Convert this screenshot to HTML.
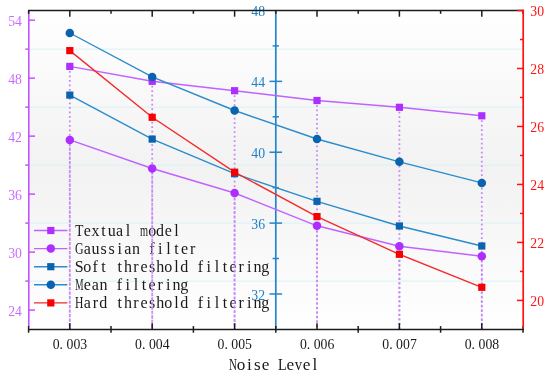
<!DOCTYPE html>
<html><head><meta charset="utf-8"><title>Noise Level chart</title><style>html,body{margin:0;padding:0;background:#fff;width:550px;height:380px;overflow:hidden}svg{display:block}</style></head><body>
<svg width="550" height="380" viewBox="0 0 550 380">
<defs><linearGradient id="bg" x1="0" y1="0" x2="0" y2="1"><stop offset="0" stop-color="#ffffff"/><stop offset="0.5" stop-color="#f2f2f2"/><stop offset="1" stop-color="#ffffff"/></linearGradient></defs>
<rect x="28.8" y="10.5" width="494.40" height="318.90" fill="url(#bg)"/>
<line x1="28.80" y1="49.15" x2="523.20" y2="49.15" stroke="#dbf1f5" stroke-width="1"/>
<line x1="28.80" y1="107.14" x2="523.20" y2="107.14" stroke="#dbf1f5" stroke-width="1"/>
<line x1="28.80" y1="165.12" x2="523.20" y2="165.12" stroke="#dbf1f5" stroke-width="1"/>
<line x1="28.80" y1="223.10" x2="523.20" y2="223.10" stroke="#dbf1f5" stroke-width="1"/>
<line x1="28.80" y1="281.08" x2="523.20" y2="281.08" stroke="#dbf1f5" stroke-width="1"/>
<text y="235.60" font-family="Liberation Serif, serif" font-size="16" fill="#1a1a1a"><tspan x="75.16" textLength="8.16" lengthAdjust="spacingAndGlyphs">T</tspan><tspan x="83.76 91.48 101.30 107.68 116.03 125.63 133.95">extual </tspan><tspan x="139.98" textLength="8.08" lengthAdjust="spacingAndGlyphs">m</tspan><tspan x="148.15 156.06 164.76 174.23">odel</tspan></text>
<text y="253.70" font-family="Liberation Serif, serif" font-size="16" fill="#1a1a1a"><tspan x="74.91" textLength="8.56" lengthAdjust="spacingAndGlyphs">G</tspan><tspan x="83.63 91.48 100.40 108.50 117.51 124.13 131.89 142.05 149.24 158.01 166.13 174.20 180.96 189.90">aussian filter</tspan></text>
<text y="271.80" font-family="Liberation Serif, serif" font-size="16" fill="#1a1a1a"><tspan x="74.76 83.35 92.54 101.30 109.65 117.50 123.88 133.20 140.46 149.00 156.28 164.35 174.23 180.36 190.65 197.84 206.61 214.73 222.80 229.56 238.50 247.11 253.39 261.36">Soft threshold filtering</tspan></text>
<text y="289.90" font-family="Liberation Serif, serif" font-size="16" fill="#1a1a1a"><tspan x="75.13" textLength="8.24" lengthAdjust="spacingAndGlyphs">M</tspan><tspan x="83.76 91.73 99.49 109.65 116.84 125.61 133.73 141.80 148.56 157.50 166.11 172.39 180.36">ean filtering</tspan></text>
<text y="308.00" font-family="Liberation Serif, serif" font-size="16" fill="#1a1a1a"><tspan x="75.07" textLength="8.37" lengthAdjust="spacingAndGlyphs">H</tspan><tspan x="83.63 92.70 99.36 109.65 117.50 123.88 133.20 140.46 149.00 156.28 164.35 174.23 180.36 190.65 197.84 206.61 214.73 222.80 229.56 238.50 247.11 253.39 261.36">ard threshold filtering</tspan></text>
<line x1="69.80" y1="66.40" x2="69.80" y2="329.40" stroke="#c688f5" stroke-width="1.8" stroke-dasharray="1.8 2.7"/>
<line x1="152.20" y1="81.30" x2="152.20" y2="329.40" stroke="#c688f5" stroke-width="1.8" stroke-dasharray="1.8 2.7"/>
<line x1="234.60" y1="90.70" x2="234.60" y2="329.40" stroke="#c688f5" stroke-width="1.8" stroke-dasharray="1.8 2.7"/>
<line x1="317.00" y1="100.50" x2="317.00" y2="329.40" stroke="#c688f5" stroke-width="1.8" stroke-dasharray="1.8 2.7"/>
<line x1="399.40" y1="107.30" x2="399.40" y2="329.40" stroke="#c688f5" stroke-width="1.8" stroke-dasharray="1.8 2.7"/>
<line x1="481.80" y1="115.80" x2="481.80" y2="329.40" stroke="#c688f5" stroke-width="1.8" stroke-dasharray="1.8 2.7"/>
<line x1="69.80" y1="139.90" x2="69.80" y2="329.40" stroke="#c688f5" stroke-width="1.8" stroke-dasharray="1.8 2.7"/>
<line x1="152.20" y1="168.50" x2="152.20" y2="329.40" stroke="#c688f5" stroke-width="1.8" stroke-dasharray="1.8 2.7"/>
<line x1="234.60" y1="193.00" x2="234.60" y2="329.40" stroke="#c688f5" stroke-width="1.8" stroke-dasharray="1.8 2.7"/>
<line x1="317.00" y1="225.80" x2="317.00" y2="329.40" stroke="#c688f5" stroke-width="1.8" stroke-dasharray="1.8 2.7"/>
<line x1="399.40" y1="246.30" x2="399.40" y2="329.40" stroke="#c688f5" stroke-width="1.8" stroke-dasharray="1.8 2.7"/>
<line x1="481.80" y1="256.30" x2="481.80" y2="329.40" stroke="#c688f5" stroke-width="1.8" stroke-dasharray="1.8 2.7"/>
<text transform="scale(0.93,1)" x="8.82 16.24" y="25.76" font-family="Liberation Serif, serif" font-size="14.8" fill="#c96cff">54</text>
<text transform="scale(0.93,1)" x="8.82 16.24" y="83.75" font-family="Liberation Serif, serif" font-size="14.8" fill="#c96cff">48</text>
<text transform="scale(0.93,1)" x="8.82 16.24" y="141.73" font-family="Liberation Serif, serif" font-size="14.8" fill="#c96cff">42</text>
<text transform="scale(0.93,1)" x="8.82 16.24" y="199.71" font-family="Liberation Serif, serif" font-size="14.8" fill="#c96cff">36</text>
<text transform="scale(0.93,1)" x="8.82 16.24" y="257.69" font-family="Liberation Serif, serif" font-size="14.8" fill="#c96cff">30</text>
<text transform="scale(0.93,1)" x="8.82 16.24" y="315.67" font-family="Liberation Serif, serif" font-size="14.8" fill="#c96cff">24</text>
<text transform="scale(0.93,1)" x="570.22 577.63" y="16.50" font-family="Liberation Serif, serif" font-size="14.8" fill="#ff1212">30</text>
<text transform="scale(0.93,1)" x="570.22 577.63" y="74.48" font-family="Liberation Serif, serif" font-size="14.8" fill="#ff1212">28</text>
<text transform="scale(0.93,1)" x="570.22 577.63" y="132.46" font-family="Liberation Serif, serif" font-size="14.8" fill="#ff1212">26</text>
<text transform="scale(0.93,1)" x="570.22 577.63" y="190.45" font-family="Liberation Serif, serif" font-size="14.8" fill="#ff1212">24</text>
<text transform="scale(0.93,1)" x="570.22 577.63" y="248.43" font-family="Liberation Serif, serif" font-size="14.8" fill="#ff1212">22</text>
<text transform="scale(0.93,1)" x="570.22 577.63" y="306.41" font-family="Liberation Serif, serif" font-size="14.8" fill="#ff1212">20</text>
<text transform="scale(0.93,1)" x="270.22 277.63" y="16.50" font-family="Liberation Serif, serif" font-size="14.8" fill="#1f80c4">48</text>
<text transform="scale(0.93,1)" x="270.22 277.63" y="87.37" font-family="Liberation Serif, serif" font-size="14.8" fill="#1f80c4">44</text>
<text transform="scale(0.93,1)" x="270.22 277.63" y="158.23" font-family="Liberation Serif, serif" font-size="14.8" fill="#1f80c4">40</text>
<text transform="scale(0.93,1)" x="270.22 277.63" y="229.10" font-family="Liberation Serif, serif" font-size="14.8" fill="#1f80c4">36</text>
<text transform="scale(0.93,1)" x="270.22 277.63" y="299.97" font-family="Liberation Serif, serif" font-size="14.8" fill="#1f80c4">32</text>
<line x1="275.80" y1="11.30" x2="275.80" y2="328.60" stroke="#2486c8" stroke-width="1.7"/>
<line x1="269.50" y1="81.37" x2="282.10" y2="81.37" stroke="#2486c8" stroke-width="1.5"/>
<line x1="269.50" y1="152.23" x2="282.10" y2="152.23" stroke="#2486c8" stroke-width="1.5"/>
<line x1="269.50" y1="223.10" x2="282.10" y2="223.10" stroke="#2486c8" stroke-width="1.5"/>
<line x1="269.50" y1="293.97" x2="282.10" y2="293.97" stroke="#2486c8" stroke-width="1.5"/>
<line x1="272.60" y1="45.93" x2="279.00" y2="45.93" stroke="#2486c8" stroke-width="1.5"/>
<line x1="272.60" y1="116.80" x2="279.00" y2="116.80" stroke="#2486c8" stroke-width="1.5"/>
<line x1="272.60" y1="187.67" x2="279.00" y2="187.67" stroke="#2486c8" stroke-width="1.5"/>
<line x1="272.60" y1="258.53" x2="279.00" y2="258.53" stroke="#2486c8" stroke-width="1.5"/>
<line x1="28.80" y1="11.10" x2="28.80" y2="326.90" stroke="#c055ff" stroke-width="1.6"/>
<line x1="28.00" y1="10.50" x2="524.00" y2="10.50" stroke="#1c1c1c" stroke-width="1.5"/>
<line x1="28.00" y1="329.40" x2="524.00" y2="329.40" stroke="#1c1c1c" stroke-width="1.5"/>
<line x1="69.80" y1="10.50" x2="69.80" y2="16.70" stroke="#1c1c1c" stroke-width="1.5"/>
<line x1="69.80" y1="329.40" x2="69.80" y2="323.20" stroke="#1c1c1c" stroke-width="1.5"/>
<line x1="152.20" y1="10.50" x2="152.20" y2="16.70" stroke="#1c1c1c" stroke-width="1.5"/>
<line x1="152.20" y1="329.40" x2="152.20" y2="323.20" stroke="#1c1c1c" stroke-width="1.5"/>
<line x1="234.60" y1="10.50" x2="234.60" y2="16.70" stroke="#1c1c1c" stroke-width="1.5"/>
<line x1="234.60" y1="329.40" x2="234.60" y2="323.20" stroke="#1c1c1c" stroke-width="1.5"/>
<line x1="317.00" y1="10.50" x2="317.00" y2="16.70" stroke="#1c1c1c" stroke-width="1.5"/>
<line x1="317.00" y1="329.40" x2="317.00" y2="323.20" stroke="#1c1c1c" stroke-width="1.5"/>
<line x1="399.40" y1="10.50" x2="399.40" y2="16.70" stroke="#1c1c1c" stroke-width="1.5"/>
<line x1="399.40" y1="329.40" x2="399.40" y2="323.20" stroke="#1c1c1c" stroke-width="1.5"/>
<line x1="481.80" y1="10.50" x2="481.80" y2="16.70" stroke="#1c1c1c" stroke-width="1.5"/>
<line x1="481.80" y1="329.40" x2="481.80" y2="323.20" stroke="#1c1c1c" stroke-width="1.5"/>
<line x1="28.60" y1="10.50" x2="28.60" y2="13.80" stroke="#1c1c1c" stroke-width="1.5"/>
<line x1="28.60" y1="326.10" x2="28.60" y2="332.70" stroke="#1c1c1c" stroke-width="1.5"/>
<line x1="111.00" y1="10.50" x2="111.00" y2="13.80" stroke="#1c1c1c" stroke-width="1.5"/>
<line x1="111.00" y1="326.10" x2="111.00" y2="332.70" stroke="#1c1c1c" stroke-width="1.5"/>
<line x1="193.40" y1="10.50" x2="193.40" y2="13.80" stroke="#1c1c1c" stroke-width="1.5"/>
<line x1="193.40" y1="326.10" x2="193.40" y2="332.70" stroke="#1c1c1c" stroke-width="1.5"/>
<line x1="275.80" y1="10.50" x2="275.80" y2="13.80" stroke="#1c1c1c" stroke-width="1.5"/>
<line x1="275.80" y1="326.10" x2="275.80" y2="332.70" stroke="#1c1c1c" stroke-width="1.5"/>
<line x1="358.20" y1="10.50" x2="358.20" y2="13.80" stroke="#1c1c1c" stroke-width="1.5"/>
<line x1="358.20" y1="326.10" x2="358.20" y2="332.70" stroke="#1c1c1c" stroke-width="1.5"/>
<line x1="440.60" y1="10.50" x2="440.60" y2="13.80" stroke="#1c1c1c" stroke-width="1.5"/>
<line x1="440.60" y1="326.10" x2="440.60" y2="332.70" stroke="#1c1c1c" stroke-width="1.5"/>
<line x1="523.00" y1="10.50" x2="523.00" y2="13.80" stroke="#1c1c1c" stroke-width="1.5"/>
<line x1="523.00" y1="326.10" x2="523.00" y2="332.70" stroke="#1c1c1c" stroke-width="1.5"/>
<line x1="28.80" y1="20.16" x2="35.00" y2="20.16" stroke="#c055ff" stroke-width="1.5"/>
<line x1="28.80" y1="78.15" x2="35.00" y2="78.15" stroke="#c055ff" stroke-width="1.5"/>
<line x1="28.80" y1="136.13" x2="35.00" y2="136.13" stroke="#c055ff" stroke-width="1.5"/>
<line x1="28.80" y1="194.11" x2="35.00" y2="194.11" stroke="#c055ff" stroke-width="1.5"/>
<line x1="28.80" y1="252.09" x2="35.00" y2="252.09" stroke="#c055ff" stroke-width="1.5"/>
<line x1="28.80" y1="310.07" x2="35.00" y2="310.07" stroke="#c055ff" stroke-width="1.5"/>
<line x1="25.30" y1="49.15" x2="28.80" y2="49.15" stroke="#c055ff" stroke-width="1.5"/>
<line x1="25.30" y1="107.14" x2="28.80" y2="107.14" stroke="#c055ff" stroke-width="1.5"/>
<line x1="25.30" y1="165.12" x2="28.80" y2="165.12" stroke="#c055ff" stroke-width="1.5"/>
<line x1="25.30" y1="223.10" x2="28.80" y2="223.10" stroke="#c055ff" stroke-width="1.5"/>
<line x1="25.30" y1="281.08" x2="28.80" y2="281.08" stroke="#c055ff" stroke-width="1.5"/>
<line x1="523.20" y1="9.80" x2="523.20" y2="328.40" stroke="#ff1212" stroke-width="1.7"/>
<line x1="517.00" y1="10.50" x2="523.20" y2="10.50" stroke="#ff1212" stroke-width="1.5"/>
<line x1="517.00" y1="68.48" x2="523.20" y2="68.48" stroke="#ff1212" stroke-width="1.5"/>
<line x1="517.00" y1="126.46" x2="523.20" y2="126.46" stroke="#ff1212" stroke-width="1.5"/>
<line x1="517.00" y1="184.45" x2="523.20" y2="184.45" stroke="#ff1212" stroke-width="1.5"/>
<line x1="517.00" y1="242.43" x2="523.20" y2="242.43" stroke="#ff1212" stroke-width="1.5"/>
<line x1="517.00" y1="300.41" x2="523.20" y2="300.41" stroke="#ff1212" stroke-width="1.5"/>
<line x1="520.00" y1="39.49" x2="523.20" y2="39.49" stroke="#ff1212" stroke-width="1.5"/>
<line x1="520.00" y1="97.47" x2="523.20" y2="97.47" stroke="#ff1212" stroke-width="1.5"/>
<line x1="520.00" y1="155.45" x2="523.20" y2="155.45" stroke="#ff1212" stroke-width="1.5"/>
<line x1="520.00" y1="213.44" x2="523.20" y2="213.44" stroke="#ff1212" stroke-width="1.5"/>
<line x1="520.00" y1="271.42" x2="523.20" y2="271.42" stroke="#ff1212" stroke-width="1.5"/>
<polyline points="69.80,66.40 152.20,81.30 234.60,90.70 317.00,100.50 399.40,107.30 481.80,115.80" fill="none" stroke="#c062ff" stroke-width="1.4"/>
<rect x="66.20" y="62.80" width="7.2" height="7.2" fill="#ad2eff"/>
<rect x="148.60" y="77.70" width="7.2" height="7.2" fill="#ad2eff"/>
<rect x="231.00" y="87.10" width="7.2" height="7.2" fill="#ad2eff"/>
<rect x="313.40" y="96.90" width="7.2" height="7.2" fill="#ad2eff"/>
<rect x="395.80" y="103.70" width="7.2" height="7.2" fill="#ad2eff"/>
<rect x="478.20" y="112.20" width="7.2" height="7.2" fill="#ad2eff"/>
<polyline points="69.80,139.90 152.20,168.50 234.60,193.00 317.00,225.80 399.40,246.30 481.80,256.30" fill="none" stroke="#c062ff" stroke-width="1.4"/>
<circle cx="69.80" cy="139.90" r="4.25" fill="#ad2eff"/>
<circle cx="152.20" cy="168.50" r="4.25" fill="#ad2eff"/>
<circle cx="234.60" cy="193.00" r="4.25" fill="#ad2eff"/>
<circle cx="317.00" cy="225.80" r="4.25" fill="#ad2eff"/>
<circle cx="399.40" cy="246.30" r="4.25" fill="#ad2eff"/>
<circle cx="481.80" cy="256.30" r="4.25" fill="#ad2eff"/>
<polyline points="69.80,95.10 152.20,139.10 234.60,173.70 317.00,201.30 399.40,226.00 481.80,246.00" fill="none" stroke="#2a8ccc" stroke-width="1.4"/>
<rect x="66.20" y="91.50" width="7.2" height="7.2" fill="#0a63ae"/>
<rect x="148.60" y="135.50" width="7.2" height="7.2" fill="#0a63ae"/>
<rect x="231.00" y="170.10" width="7.2" height="7.2" fill="#0a63ae"/>
<rect x="313.40" y="197.70" width="7.2" height="7.2" fill="#0a63ae"/>
<rect x="395.80" y="222.40" width="7.2" height="7.2" fill="#0a63ae"/>
<rect x="478.20" y="242.40" width="7.2" height="7.2" fill="#0a63ae"/>
<polyline points="69.80,33.00 152.20,76.90 234.60,110.50 317.00,139.00 399.40,161.80 481.80,182.90" fill="none" stroke="#2a8ccc" stroke-width="1.4"/>
<circle cx="69.80" cy="33.00" r="4.25" fill="#0a63ae"/>
<circle cx="152.20" cy="76.90" r="4.25" fill="#0a63ae"/>
<circle cx="234.60" cy="110.50" r="4.25" fill="#0a63ae"/>
<circle cx="317.00" cy="139.00" r="4.25" fill="#0a63ae"/>
<circle cx="399.40" cy="161.80" r="4.25" fill="#0a63ae"/>
<circle cx="481.80" cy="182.90" r="4.25" fill="#0a63ae"/>
<polyline points="69.80,50.60 152.20,117.30 234.60,172.20 317.00,216.60 399.40,254.30 481.80,287.30" fill="none" stroke="#f52a2a" stroke-width="1.4"/>
<rect x="66.20" y="47.00" width="7.2" height="7.2" fill="#f80000"/>
<rect x="148.60" y="113.70" width="7.2" height="7.2" fill="#f80000"/>
<rect x="231.00" y="168.60" width="7.2" height="7.2" fill="#f80000"/>
<rect x="313.40" y="213.00" width="7.2" height="7.2" fill="#f80000"/>
<rect x="395.80" y="250.70" width="7.2" height="7.2" fill="#f80000"/>
<rect x="478.20" y="283.70" width="7.2" height="7.2" fill="#f80000"/>
<line x1="34.00" y1="230.50" x2="67.40" y2="230.50" stroke="#c062ff" stroke-width="1.4"/>
<rect x="47.20" y="226.90" width="7.2" height="7.2" fill="#ad2eff"/>
<line x1="34.00" y1="248.60" x2="67.40" y2="248.60" stroke="#c062ff" stroke-width="1.4"/>
<circle cx="50.80" cy="248.60" r="4.25" fill="#ad2eff"/>
<line x1="34.00" y1="266.70" x2="67.40" y2="266.70" stroke="#2a8ccc" stroke-width="1.4"/>
<rect x="47.20" y="263.10" width="7.2" height="7.2" fill="#0a63ae"/>
<line x1="34.00" y1="284.80" x2="67.40" y2="284.80" stroke="#2a8ccc" stroke-width="1.4"/>
<circle cx="50.80" cy="284.80" r="4.25" fill="#0a63ae"/>
<line x1="34.00" y1="302.90" x2="67.40" y2="302.90" stroke="#f52a2a" stroke-width="1.4"/>
<rect x="47.20" y="299.30" width="7.2" height="7.2" fill="#f80000"/>
<text transform="scale(0.93,1)" x="56.67 64.09 71.51 78.92 86.34" y="348.80" font-family="Liberation Serif, serif" font-size="14.8" fill="#1a1a1a">0.003</text>
<text transform="scale(0.93,1)" x="145.27 152.69 160.11 167.53 174.95" y="348.80" font-family="Liberation Serif, serif" font-size="14.8" fill="#1a1a1a">0.004</text>
<text transform="scale(0.93,1)" x="233.87 241.29 248.71 256.13 263.55" y="348.80" font-family="Liberation Serif, serif" font-size="14.8" fill="#1a1a1a">0.005</text>
<text transform="scale(0.93,1)" x="322.47 329.89 337.31 344.73 352.15" y="348.80" font-family="Liberation Serif, serif" font-size="14.8" fill="#1a1a1a">0.006</text>
<text transform="scale(0.93,1)" x="411.08 418.49 425.91 433.33 440.75" y="348.80" font-family="Liberation Serif, serif" font-size="14.8" fill="#1a1a1a">0.007</text>
<text transform="scale(0.93,1)" x="499.68 507.10 514.52 521.94 529.35" y="348.80" font-family="Liberation Serif, serif" font-size="14.8" fill="#1a1a1a">0.008</text>
<text y="370.30" font-family="Liberation Serif, serif" font-size="17.2" fill="#1a1a1a"><tspan x="228.88" textLength="7.97" lengthAdjust="spacingAndGlyphs">N</tspan><tspan x="236.80 246.89 254.11 261.85 271.90">oise </tspan><tspan x="277.99" textLength="8.66" lengthAdjust="spacingAndGlyphs">L</tspan><tspan x="286.45">e</tspan><tspan x="294.80" textLength="7.40" lengthAdjust="spacingAndGlyphs">v</tspan><tspan x="302.85 312.51">el</tspan></text>
</svg></body></html>
